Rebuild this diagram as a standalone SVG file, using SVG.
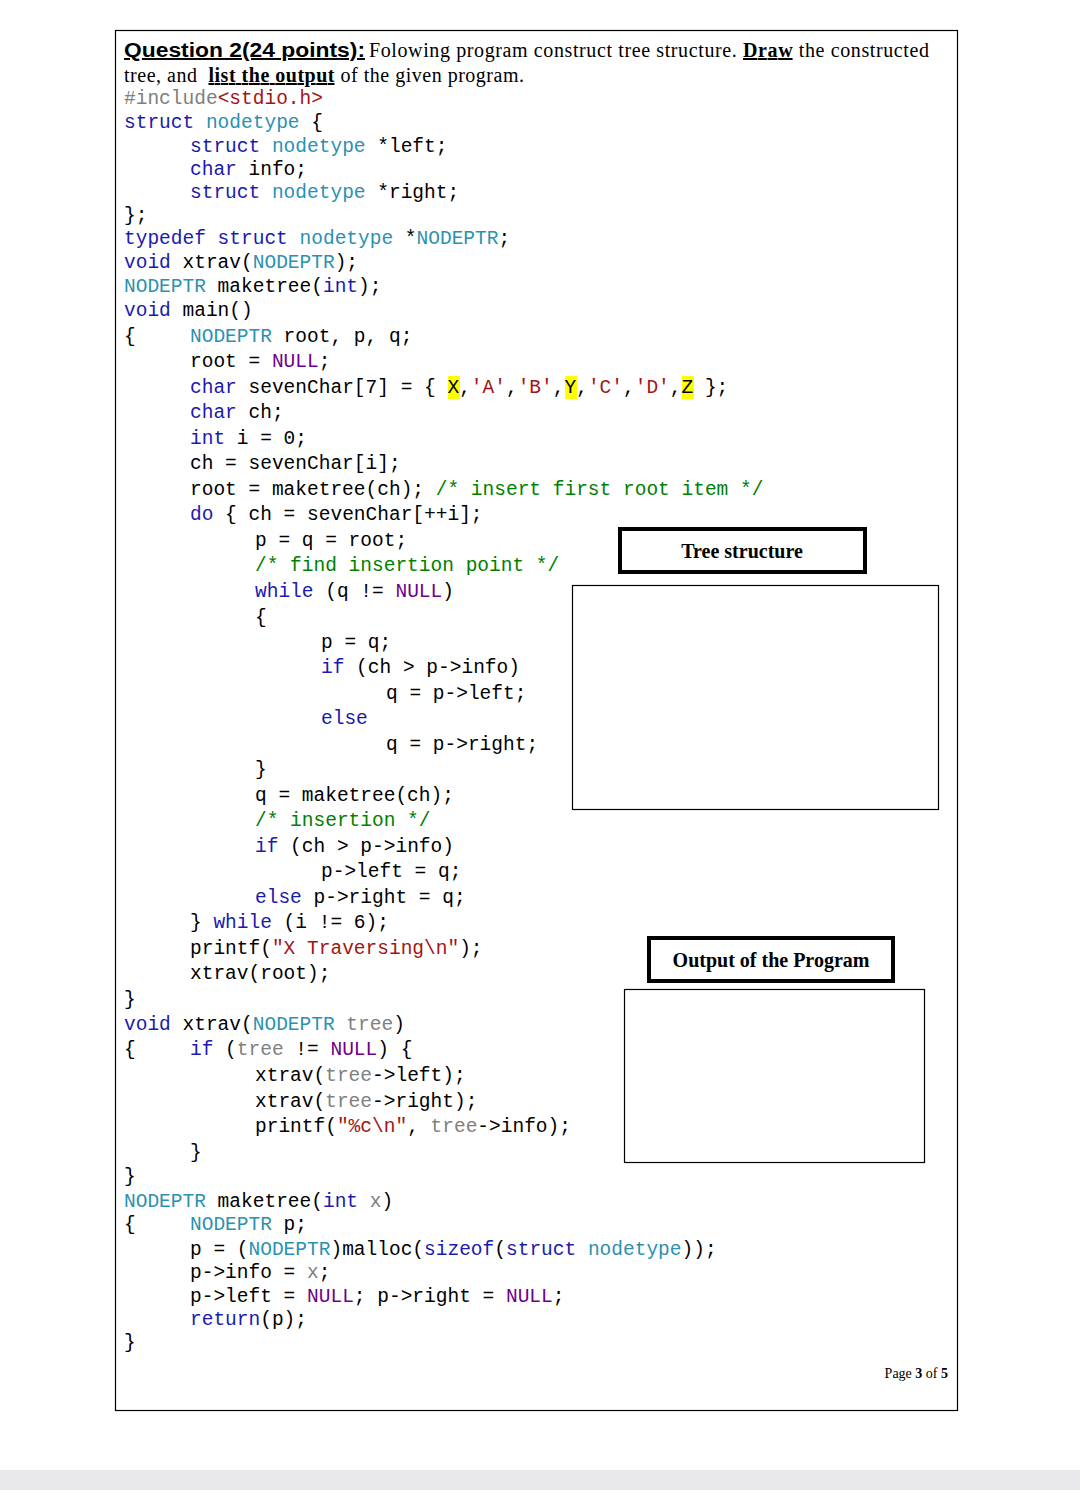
<svg xmlns="http://www.w3.org/2000/svg" width="1080" height="1490" viewBox="0 0 1080 1490">
<style>
.code{font-family:"Liberation Mono","DejaVu Sans Mono",monospace;font-size:19.5px;fill:#000}
.k{fill:#1a1ab0}.t{fill:#2b91af}.s{fill:#a31515}.n{fill:#6f008a}.c{fill:#008000}.g{fill:#808080}
.serif{font-family:"Liberation Serif",serif;font-size:20px}
.box{fill:none;stroke:#000;stroke-width:1.2}
.tbox{fill:#fff;stroke:#000;stroke-width:4}
.hl{fill:#ffff00}
</style>
<rect width="1080" height="1490" fill="#fff"/>
<rect x="0" y="1470" width="1080" height="20" fill="#e9e9ec"/>
<rect x="115.5" y="30.5" width="842" height="1380" class="box"/>
<g id="header">
<text x="124" y="57" font-family="Liberation Sans,sans-serif" font-size="19.5" font-weight="bold" text-decoration="underline" textLength="241" lengthAdjust="spacingAndGlyphs">Question 2(24 points):</text>
<text x="369" y="57" class="serif" textLength="560">Folowing program construct tree structure. <tspan font-weight="bold" text-decoration="underline">Draw</tspan> the constructed</text>
<text x="124" y="82" class="serif" textLength="400" xml:space="preserve">tree, and  <tspan font-weight="bold" text-decoration="underline">list the output</tspan> of the given program.</text>
</g>
<rect class="hl" x="448" y="376" width="12" height="23"/>
<rect class="hl" x="565" y="376" width="12" height="23"/>
<rect class="hl" x="682" y="376" width="12" height="23"/>
<g id="code" class="code" xml:space="preserve">
<text x="124" y="104" class="g">#include<tspan class="s">&lt;stdio.h&gt;</tspan></text>
<text x="124" y="128"><tspan class="k">struct</tspan>  <tspan class="t">nodetype</tspan> {</text>
<text x="190" y="152"><tspan class="k">struct</tspan>  <tspan class="t">nodetype</tspan>  *left;</text>
<text x="190" y="175"><tspan class="k">char</tspan>  info;</text>
<text x="190" y="198"><tspan class="k">struct</tspan>  <tspan class="t">nodetype</tspan>  *right;</text>
<text x="124" y="221">};</text>
<text x="124" y="244"><tspan class="k">typedef struct</tspan> <tspan class="t">nodetype</tspan> *<tspan class="t">NODEPTR</tspan>;</text>
<text x="124" y="268"><tspan class="k">void</tspan> xtrav(<tspan class="t">NODEPTR</tspan>);</text>
<text x="124" y="292"><tspan class="t">NODEPTR</tspan> maketree(<tspan class="k">int</tspan>);</text>
<text x="124" y="316"><tspan class="k">void</tspan> main()</text>
<text x="124" y="342">{</text>
<text x="190" y="342"><tspan class="t">NODEPTR</tspan> root, p, q;</text>
<text x="190" y="367">root = <tspan class="n">NULL</tspan>;</text>
<text x="190" y="393"><tspan class="k">char</tspan> sevenChar[7] = { X,<tspan class="s">'A'</tspan>,<tspan class="s">'B'</tspan>,Y,<tspan class="s">'C'</tspan>,<tspan class="s">'D'</tspan>,Z };</text>
<text x="190" y="418"><tspan class="k">char</tspan> ch;</text>
<text x="190" y="444"><tspan class="k">int</tspan> i = 0;</text>
<text x="190" y="469">ch = sevenChar[i];</text>
<text x="190" y="495">root = maketree(ch); <tspan class="c">/* insert first root item */</tspan></text>
<text x="190" y="520"><tspan class="k">do</tspan> {  ch = sevenChar[++i];</text>
<text x="255" y="546">p = q = root;</text>
<text x="255" y="571" class="c">/* find insertion point */</text>
<text x="255" y="597"><tspan class="k">while</tspan> (q != <tspan class="n">NULL</tspan>)</text>
<text x="255" y="623">{</text>
<text x="321" y="648">p = q;</text>
<text x="321" y="673"><tspan class="k">if</tspan> (ch &gt; p-&gt;info)</text>
<text x="386" y="699">q = p-&gt;left;</text>
<text x="321" y="724" class="k">else</text>
<text x="386" y="750">q = p-&gt;right;</text>
<text x="255" y="775">}</text>
<text x="255" y="801">q = maketree(ch);</text>
<text x="255" y="826" class="c">/* insertion */</text>
<text x="255" y="852"><tspan class="k">if</tspan> (ch &gt; p-&gt;info)</text>
<text x="321" y="877">p-&gt;left = q;</text>
<text x="255" y="903"><tspan class="k">else</tspan>  p-&gt;right = q;</text>
<text x="190" y="928">} <tspan class="k">while</tspan> (i != 6);</text>
<text x="190" y="954">printf(<tspan class="s">"X Traversing\n"</tspan>);</text>
<text x="190" y="979">xtrav(root);</text>
<text x="124" y="1005">}</text>
<text x="124" y="1030"><tspan class="k">void</tspan> xtrav(<tspan class="t">NODEPTR</tspan> <tspan class="g">tree</tspan>)</text>
<text x="124" y="1055">{</text>
<text x="190" y="1055"><tspan class="k">if</tspan> (<tspan class="g">tree</tspan> != <tspan class="n">NULL</tspan>) {</text>
<text x="255" y="1081">xtrav(<tspan class="g">tree</tspan>-&gt;left);</text>
<text x="255" y="1107">xtrav(<tspan class="g">tree</tspan>-&gt;right);</text>
<text x="255" y="1132">printf(<tspan class="s">"%c\n"</tspan>, <tspan class="g">tree</tspan>-&gt;info);</text>
<text x="190" y="1158">}</text>
<text x="124" y="1182">}</text>
<text x="124" y="1207"><tspan class="t">NODEPTR</tspan> maketree(<tspan class="k">int</tspan> <tspan class="g">x</tspan>)</text>
<text x="124" y="1230">{</text>
<text x="190" y="1230"><tspan class="t">NODEPTR</tspan> p;</text>
<text x="190" y="1255">p = (<tspan class="t">NODEPTR</tspan>)malloc(<tspan class="k">sizeof</tspan>(<tspan class="k">struct</tspan> <tspan class="t">nodetype</tspan>));</text>
<text x="190" y="1278">p-&gt;info = <tspan class="g">x</tspan>;</text>
<text x="190" y="1302">p-&gt;left = <tspan class="n">NULL</tspan>; p-&gt;right = <tspan class="n">NULL</tspan>;</text>
<text x="190" y="1325"><tspan class="k">return</tspan>(p);</text>
<text x="124" y="1348">}</text>
</g>
<g id="tree-label">
<rect class="tbox" x="620" y="529" width="245" height="43"/>
<text x="742" y="558" text-anchor="middle" class="serif" font-weight="bold">Tree structure</text>
</g>
<rect id="tree-area" class="box" x="572.5" y="585.5" width="366" height="224"/>
<g id="output-label">
<rect class="tbox" x="649" y="938" width="244" height="43"/>
<text x="771" y="967" text-anchor="middle" class="serif" font-weight="bold">Output of the Program</text>
</g>
<rect id="output-area" class="box" x="624.5" y="989.5" width="300" height="173"/>
<text x="948" y="1378" text-anchor="end" font-family="Liberation Serif,serif" font-size="14">Page <tspan font-weight="bold">3</tspan> of <tspan font-weight="bold">5</tspan></text>
</svg>
